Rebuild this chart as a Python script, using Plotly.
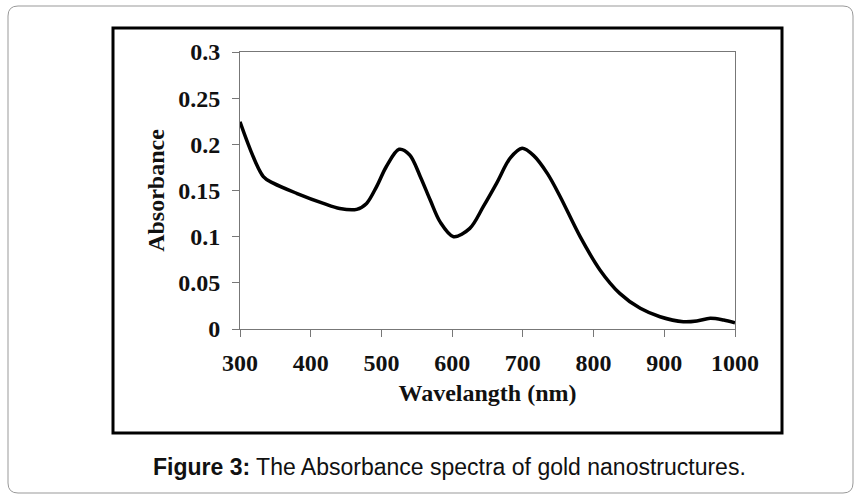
import plotly.graph_objects as go

wavelength = [300, 333, 347, 380, 418, 441, 465, 479, 493, 507, 525, 540, 555, 569, 583,
              602, 625, 644, 663, 682, 699, 715, 735, 753, 781, 809, 837, 866, 894, 927,
              946, 965, 984, 1000]
absorbance = [0.2245, 0.165, 0.158, 0.147, 0.136, 0.1305, 0.1296, 0.136, 0.154, 0.176,
              0.1946, 0.1885, 0.165, 0.1397, 0.116, 0.100, 0.109, 0.1325, 0.158, 0.185,
              0.1957, 0.188, 0.168, 0.143, 0.100, 0.064, 0.0386, 0.0224, 0.0133, 0.0079,
              0.0087, 0.0116, 0.0097, 0.0068]

x_ticks = [300, 400, 500, 600, 700, 800, 900, 1000]
y_ticks = [0, 0.05, 0.1, 0.15, 0.2, 0.25, 0.3]
y_ticktext = ["0", "0.05", "0.1", "0.15", "0.2", "0.25", "0.3"]

W, H = 860, 500
L, R, T, B = 240, 735, 52, 329


def px(xp):
    return (xp - L) / (R - L)


def py(yp):
    return (B - yp) / (B - T)


serif = "Liberation Serif, Times New Roman, serif"

fig = go.Figure()
fig.add_trace(go.Scatter(
    x=wavelength, y=absorbance, mode="lines",
    line=dict(color="#000000", width=3.5, shape="spline", smoothing=0.9),
    hoverinfo="x+y", showlegend=False,
))

# rounded outer border path
x0, x1, y0, y1, r = 8, 853, 6, 493, 10
path = (f"M {px(x0 + r)} {py(y0)} L {px(x1 - r)} {py(y0)} Q {px(x1)} {py(y0)} {px(x1)} {py(y0 + r)} "
        f"L {px(x1)} {py(y1 - r)} Q {px(x1)} {py(y1)} {px(x1 - r)} {py(y1)} "
        f"L {px(x0 + r)} {py(y1)} Q {px(x0)} {py(y1)} {px(x0)} {py(y1 - r)} "
        f"L {px(x0)} {py(y0 + r)} Q {px(x0)} {py(y0)} {px(x0 + r)} {py(y0)} Z")

fig.update_layout(
    width=W, height=H,
    margin=dict(l=L, r=W - R, t=T, b=H - B, autoexpand=False),
    paper_bgcolor="white", plot_bgcolor="white",
    xaxis=dict(
        range=[300, 1000], tickvals=x_ticks, ticktext=[f"<b>{t}</b>" for t in x_ticks],
        ticks="outside", ticklen=7, tickcolor="#777",
        showline=True, linecolor="#777", linewidth=1, mirror=True, showgrid=False, zeroline=False,
        tickfont=dict(family=serif, size=24, color="#111"), ticklabelstandoff=5,
        title=dict(text="<b>Wavelangth (nm)</b>", font=dict(family=serif, size=24, color="#111"), standoff=9),
    ),
    yaxis=dict(
        range=[0, 0.3], tickvals=y_ticks, ticktext=[f"<b>{t}</b>" for t in y_ticktext],
        ticks="outside", ticklen=7, tickcolor="#777",
        showline=True, linecolor="#777", linewidth=1, mirror=True, showgrid=False, zeroline=False,
        tickfont=dict(family=serif, size=24, color="#111"), ticklabelstandoff=7,
        title=dict(text="<b>Absorbance</b>", font=dict(family=serif, size=24, color="#111"), standoff=6),
    ),
    shapes=[
        dict(type="rect", xref="paper", yref="paper", x0=px(113), x1=px(782), y0=py(28), y1=py(433),
             line=dict(color="#000", width=3), fillcolor="rgba(0,0,0,0)", layer="below"),
        dict(type="path", xref="paper", yref="paper", path=path,
             line=dict(color="#999", width=1), fillcolor="rgba(0,0,0,0)", layer="below"),
    ],
    annotations=[
        dict(xref="paper", yref="paper", x=px(449), y=py(467), xanchor="center", yanchor="middle",
             showarrow=False,
             text="<b>Figure 3:</b> The Absorbance spectra of gold nanostructures.",
             font=dict(family="Liberation Sans, Arial, sans-serif", size=23, color="#111")),
    ],
)

fig.write_html("out.html")
